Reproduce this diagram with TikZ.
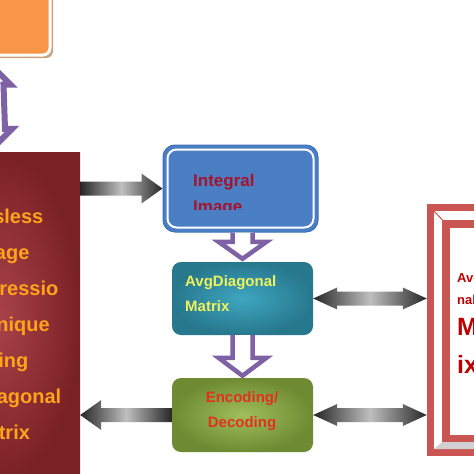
\documentclass[tikz,border=0pt]{standalone}
\usepackage{fontspec}
\setsansfont{Liberation Sans}
\usetikzlibrary{positioning,calc,shadows}
\definecolor{boxorange}{HTML}{F79646}
\definecolor{shadowtan}{HTML}{C9A27C}
\definecolor{arrowpurple}{HTML}{7F62A6}
\definecolor{lossred}{HTML}{A8424A}
\definecolor{lossreddark}{HTML}{7A2125}
\definecolor{lossorange}{HTML}{FFA31A}
\definecolor{intblue}{HTML}{4B7FC3}
\definecolor{intedge}{HTML}{3F6FB8}
\definecolor{intred}{HTML}{A5132E}
\definecolor{avgteal}{HTML}{3EA6C0}
\definecolor{avgtealdark}{HTML}{27788D}
\definecolor{avgyellow}{HTML}{F0F25A}
\definecolor{encgreen}{HTML}{A0BE5A}
\definecolor{encgreendark}{HTML}{6E8B33}
\definecolor{encred}{HTML}{E2321F}
\definecolor{framered}{HTML}{CB5553}
\definecolor{textred}{HTML}{C00000}
\tikzset{
  topbox/.style={fill=boxorange, draw=white, line width=3pt, rounded corners=7pt,
    minimum width=62pt, minimum height=67pt,
    drop shadow={shadow xshift=3pt, shadow yshift=-3pt, fill=shadowtan, opacity=1}},
  blockbox/.style={rounded corners=9pt, minimum width=141pt, minimum height=73pt, inner sep=0pt},
  hollowarrow/.style={draw=arrowpurple, line width=4.5pt, fill=white, line join=miter},
  greyarrow/.style={left color=black!85, right color=black!85, middle color=black!25},
  labeltext/.style={inner sep=0pt, align=left, anchor=west},
}
\begin{document}
\begin{tikzpicture}[x=1pt,y=-1pt]
\fill[white] (0,0) rectangle (474,474);
\useasboundingbox (0,0) rectangle (474,474);

% boxes
\node[topbox] (top) at (19,21.5) {};
\node[inner color=lossred, outer color=lossreddark, minimum width=160pt, minimum height=330pt] (lossless) at (0,317) {};
\node[font=\sffamily\bfseries\fontsize{20}{36}\selectfont, text=lossorange, align=center] (losslabel) at (0.5,324)
  {Lossless\\Image\\Compressio\\Technique\\Using\\AvgDiagonal\\Matrix};

\node[fill=intblue, draw=intedge, line width=1pt, rounded corners=12pt, minimum width=155pt, minimum height=87pt] (intg) at (240.5,188.5) {};
\draw[white, line width=2pt, rounded corners=9pt] ($(intg.south west)+(5,-5)$) rectangle ($(intg.north east)+(-5,5)$);
\begin{scope}
  \clip (160,140) rectangle (320,209);
  \node[labeltext, font=\sffamily\bfseries\fontsize{17}{26}\selectfont, text=intred] (intlabel) at (193,195) {Integral\\Image};
\end{scope}

\node[blockbox, inner color=avgteal, outer color=avgtealdark] (avg) at (242.5,298.5) {};
\node[labeltext, font=\sffamily\bfseries\fontsize{15}{25}\selectfont, text=avgyellow] (avglabel) at (185,293.5) {AvgDiagonal\\Matrix};

\node[blockbox, inner color=encgreen, outer color=encgreendark, minimum height=74pt] (enc) at (242.5,415) {};
\node[inner sep=0pt, align=center, font=\sffamily\bfseries\fontsize{15}{25}\selectfont, text=encred] (enclabel) at (242,411) {Encoding/\\Decoding};

% right frame
\node[fill=framered, minimum width=80pt, minimum height=252pt, inner sep=0pt] (frame) at (467,330) {};
\fill[white] ($(frame.north west)+(7,7)$) rectangle ($(frame.south east)+(0,-7)$);
\fill[black!18] ($(frame.south west)+(7,-7)$) -- ($(frame.south east)+(0,-7)$) -- ($(frame.south east)+(0,-14)$) -- ($(frame.south west)+(15,-14)$) -- cycle;
\draw[framered, line width=1pt] ($(frame.north west)+(7,7)$) -- ($(frame.north west)+(23,24)$);
\fill[framered] ($(frame.north west)+(15,16)$) rectangle ($(frame.south east)+(0,-14)$);
\fill[white] ($(frame.north west)+(23,24)$) rectangle ($(frame.south east)+(0,-21)$);
\node[labeltext, anchor=base west, font=\sffamily\bfseries\fontsize{13}{15}\selectfont, text=textred] (rt1) at (457,282) {AvgDiago};
\node[labeltext, anchor=base west, font=\sffamily\bfseries\fontsize{13}{15}\selectfont, text=textred] (rt2) at (457,304) {nal Matrix};
\node[labeltext, anchor=base west, font=\sffamily\bfseries\fontsize{25}{30}\selectfont, text=textred] (rt3) at (457,335) {Matr};
\node[labeltext, anchor=base west, font=\sffamily\bfseries\fontsize{25}{30}\selectfont, text=textred] (rt4) at (457,373) {ix};

% grey arrows
\coordinate (g1) at (lossless.east |- intg.west);
\shade[greyarrow] ($(g1)+(0,-7)$) -- ($(intg.west)+(-21,-7)$) -- ($(intg.west)+(-21,-15)$) -- (intg.west)
  -- ($(intg.west)+(-21,15)$) -- ($(intg.west)+(-21,7)$) -- ($(g1)+(0,7)$) -- cycle;
\coordinate (g2) at (lossless.east |- enc.west);
\shade[greyarrow] ($(enc.west)+(0,-7)$) -- ($(g2)+(21,-7)$) -- ($(g2)+(21,-15)$) -- (g2)
  -- ($(g2)+(21,15)$) -- ($(g2)+(21,7)$) -- ($(enc.west)+(0,7)$) -- cycle;
\coordinate (g3) at (frame.west |- avg.east);
\shade[greyarrow] (avg.east) -- ($(avg.east)+(24,-11)$) -- ($(avg.east)+(24,-7)$) -- ($(g3)+(-24,-7)$) -- ($(g3)+(-24,-11)$) -- (g3)
  -- ($(g3)+(-24,11)$) -- ($(g3)+(-24,7)$) -- ($(avg.east)+(24,7)$) -- ($(avg.east)+(24,11)$) -- cycle;
\coordinate (g4) at (frame.west |- enc.east);
\shade[greyarrow] (enc.east) -- ($(enc.east)+(24,-11)$) -- ($(enc.east)+(24,-7)$) -- ($(g4)+(-24,-7)$) -- ($(g4)+(-24,-11)$) -- (g4)
  -- ($(g4)+(-24,11)$) -- ($(g4)+(-24,7)$) -- ($(enc.east)+(24,7)$) -- ($(enc.east)+(24,11)$) -- cycle;

% purple arrows
\coordinate (p1) at ($(top.south west)+(6,10)$);
\coordinate (p2) at ($(lossless.north)+(-6,-5)$);
\filldraw[hollowarrow, line width=6pt] (p1) -- ($(p1)+(18,18)$) -- ($(p1)+(11,18)$) -- ($(p2)+(11,-18)$) -- ($(p2)+(18,-18)$) -- (p2)
  -- ($(p2)+(-18,-18)$) -- ($(p2)+(-11,-18)$) -- ($(p1)+(-11,18)$) -- ($(p1)+(-18,18)$) -- cycle;
\coordinate (d1) at ($(avg.north)+(0,-3)$);
\filldraw[hollowarrow] ($(avg.north |- intg.south)+(-10,0)$) -- ($(d1)+(-10,-17)$) -- ($(d1)+(-24,-17)$) -- (d1)
  -- ($(d1)+(24,-17)$) -- ($(d1)+(10,-17)$) -- ($(avg.north |- intg.south)+(10,0)$);
\coordinate (d2) at ($(enc.north)+(0,-2)$);
\filldraw[hollowarrow] ($(avg.south)+(-10,0)$) -- ($(d2)+(-10,-18)$) -- ($(d2)+(-24,-18)$) -- (d2)
  -- ($(d2)+(24,-18)$) -- ($(d2)+(10,-18)$) -- ($(avg.south)+(10,0)$);
\end{tikzpicture}
\end{document}
